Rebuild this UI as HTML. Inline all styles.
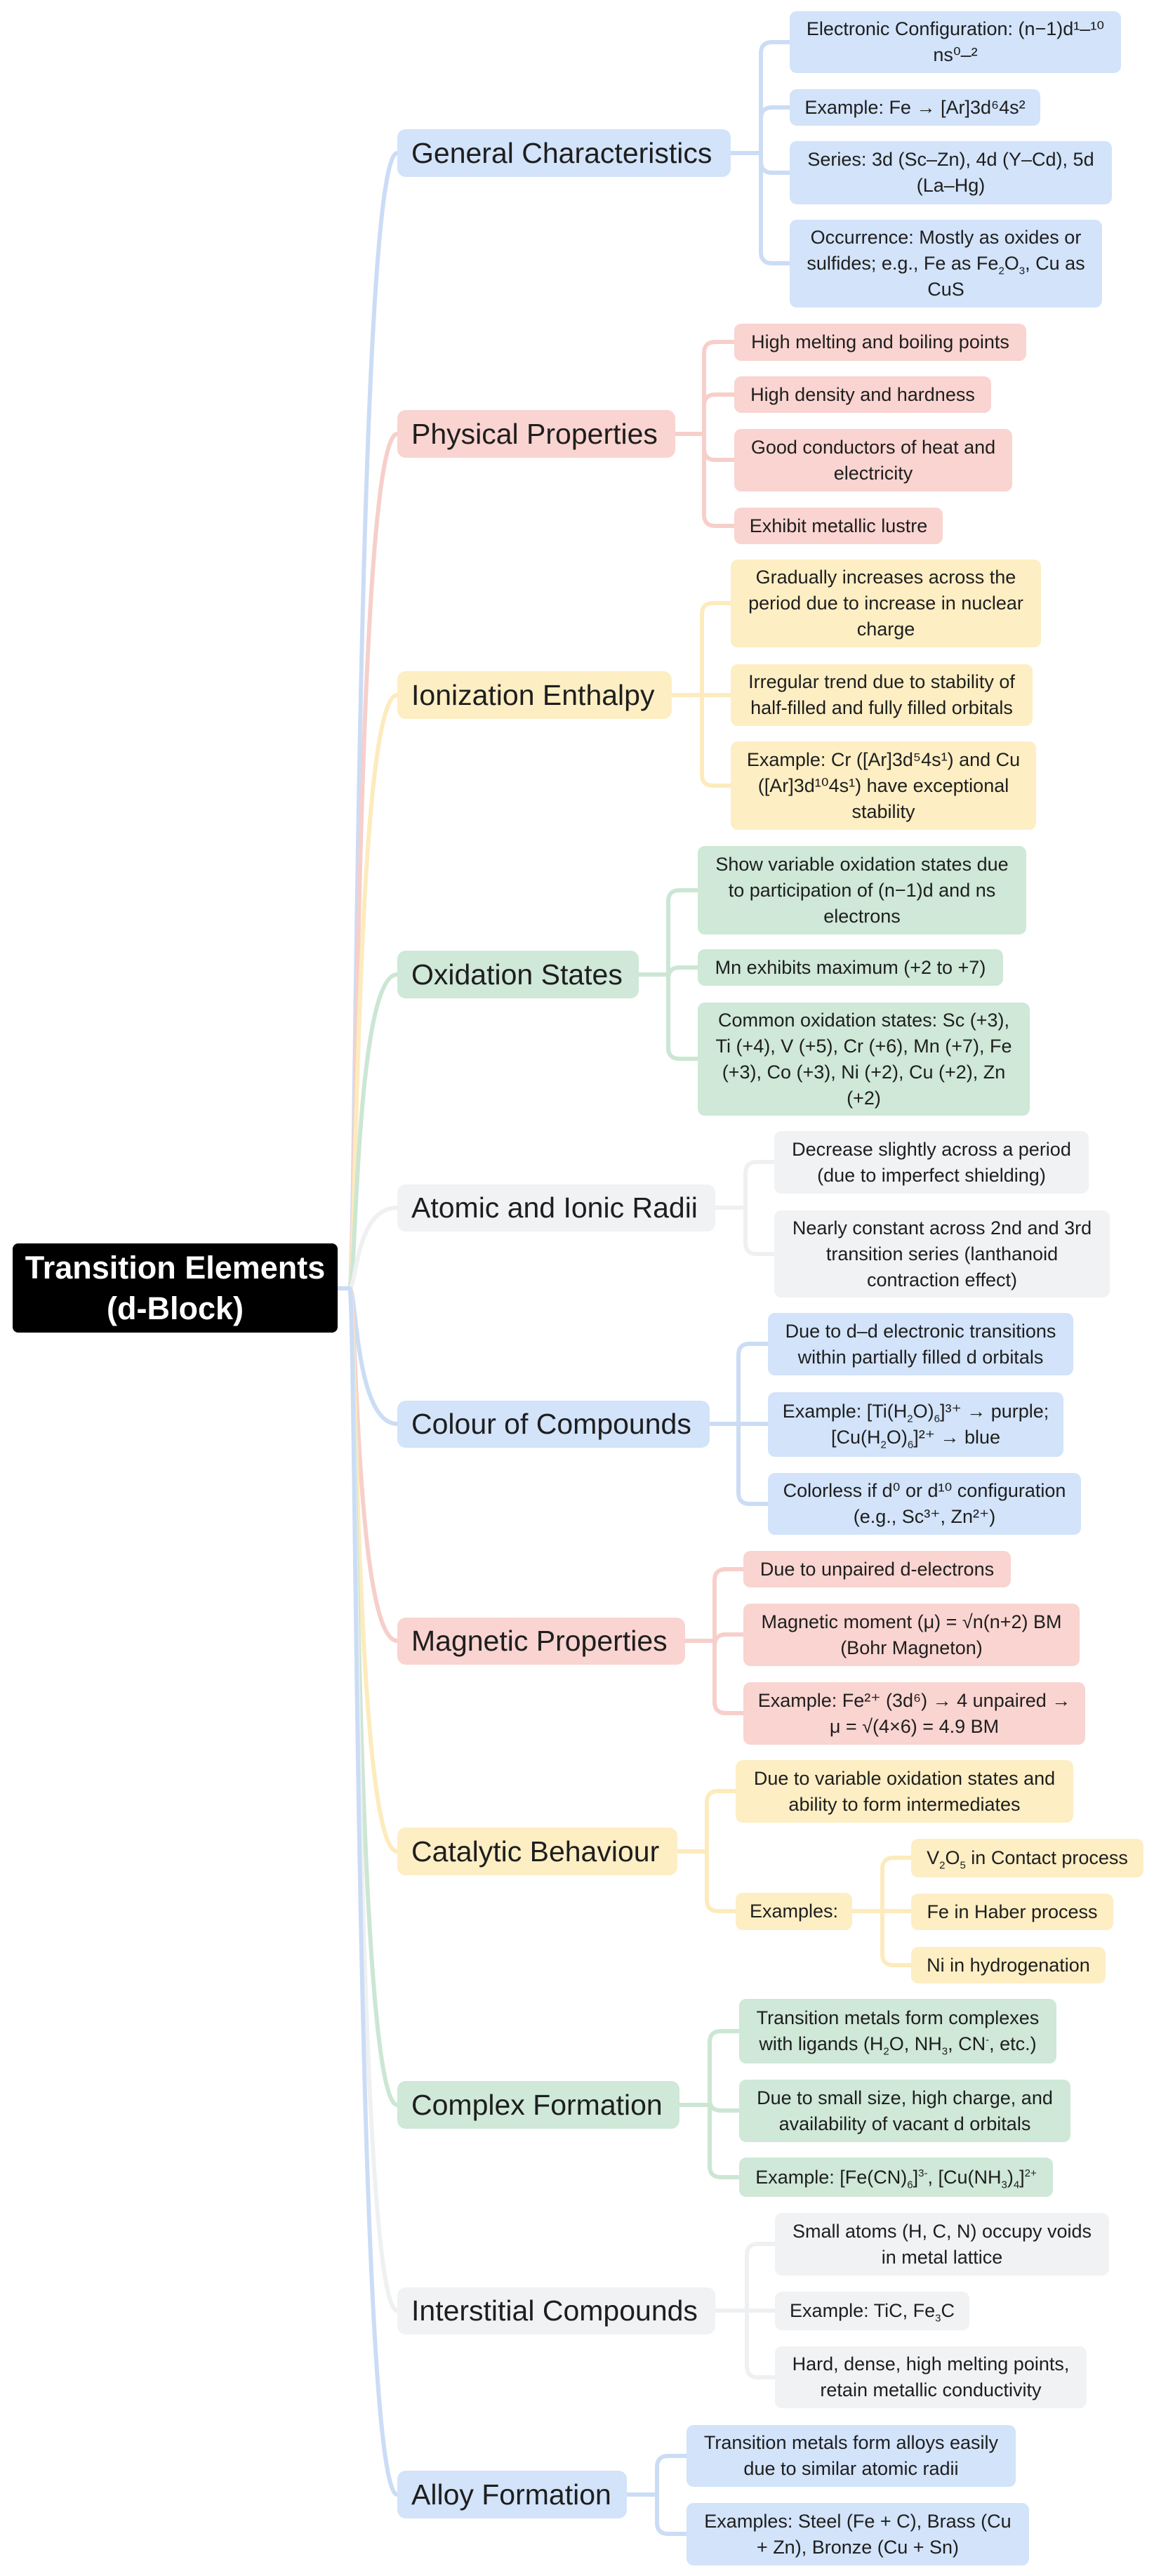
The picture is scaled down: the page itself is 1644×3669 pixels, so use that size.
<!DOCTYPE html>
<html><head><meta charset="utf-8">
<style>
body{margin:0;width:1644px;height:3669px;background:#fff;position:relative;overflow:hidden;font-family:"Liberation Sans",Arial,sans-serif;}
.n{position:absolute;box-sizing:border-box;display:flex;align-items:center;justify-content:center;text-align:center;border-radius:10px;color:#1e1e1e;font-size:27px;line-height:37px;padding:0 10px;white-space:nowrap;}
.l1{font-size:41px;justify-content:flex-start;padding-left:20px;border-radius:12px;}
.root{background:#000;color:#fff;font-weight:bold;font-size:45px;line-height:58px;border-radius:8px;}
.b{background:#d2e3fa}.r{background:#f9d4d0}.y{background:#fdeec3}.g{background:#cfe8d8}.w{background:#f1f2f3}
sub,sup{font-size:15px;line-height:0}
svg{position:absolute;left:0;top:0}
path{fill:none;stroke-width:6;stroke-linecap:round}
.sb{stroke:#cbdcf5}.sr{stroke:#f7cfca}.sy{stroke:#fdebbd}.sg{stroke:#cce6d4}.sw{stroke:#eef0f1}
</style></head><body>
<svg width="1644" height="3669">
<path class="sb" d="M481 1835 H498 C508 1835 506 218 566 218"/>
<path class="sr" d="M481 1835 H498 C508 1835 506 618 566 618"/>
<path class="sy" d="M481 1835 H498 C508 1835 506 990 566 990"/>
<path class="sg" d="M481 1835 H498 C508 1835 506 1388 566 1388"/>
<path class="sw" d="M481 1835 H498 C508 1835 506 1720 566 1720"/>
<path class="sb" d="M481 1835 H498 C508 1835 506 2028 566 2028"/>
<path class="sr" d="M481 1835 H498 C508 1835 506 2337 566 2337"/>
<path class="sy" d="M481 1835 H498 C508 1835 506 2637 566 2637"/>
<path class="sg" d="M481 1835 H498 C508 1835 506 2998 566 2998"/>
<path class="sw" d="M481 1835 H498 C508 1835 506 3291 566 3291"/>
<path class="sb" d="M481 1835 H498 C508 1835 506 3553 566 3553"/>
<path class="sb" d="M1041 218 H1084 V76 Q1084 60 1100 60 H1125"/>
<path class="sb" d="M1041 218 H1084 V169 Q1084 153 1100 153 H1125"/>
<path class="sb" d="M1041 218 H1084 V230 Q1084 246 1100 246 H1125"/>
<path class="sb" d="M1041 218 H1084 V359 Q1084 375 1100 375 H1125"/>
<path class="sr" d="M962 618 H1003 V503 Q1003 487 1019 487 H1046"/>
<path class="sr" d="M962 618 H1003 V578 Q1003 562 1019 562 H1046"/>
<path class="sr" d="M962 618 H1003 V639 Q1003 655 1019 655 H1046"/>
<path class="sr" d="M962 618 H1003 V733 Q1003 749 1019 749 H1046"/>
<path class="sy" d="M957 990 H1000 V875 Q1000 859 1016 859 H1041"/>
<path class="sy" d="M957 990 H1041"/>
<path class="sy" d="M957 990 H1000 V1103 Q1000 1119 1016 1119 H1041"/>
<path class="sg" d="M910 1388 H952 V1284 Q952 1268 968 1268 H994"/>
<path class="sg" d="M910 1388 H952 V1394 Q952 1378 968 1378 H994"/>
<path class="sg" d="M910 1388 H952 V1492 Q952 1508 968 1508 H994"/>
<path class="sw" d="M1019 1720 H1062 V1671 Q1062 1655 1078 1655 H1103"/>
<path class="sw" d="M1019 1720 H1062 V1770 Q1062 1786 1078 1786 H1103"/>
<path class="sb" d="M1011 2028 H1052 V1930 Q1052 1914 1068 1914 H1094"/>
<path class="sb" d="M1011 2028 H1094"/>
<path class="sb" d="M1011 2028 H1052 V2126 Q1052 2142 1068 2142 H1094"/>
<path class="sr" d="M976 2337 H1018 V2251 Q1018 2235 1034 2235 H1059"/>
<path class="sr" d="M976 2337 H1018 V2344 Q1018 2328 1034 2328 H1059"/>
<path class="sr" d="M976 2337 H1018 V2424 Q1018 2440 1034 2440 H1059"/>
<path class="sy" d="M965 2637 H1007 V2567 Q1007 2551 1023 2551 H1048"/>
<path class="sy" d="M965 2637 H1007 V2706 Q1007 2722 1023 2722 H1048"/>
<path class="sy" d="M1214 2722 H1257 V2662 Q1257 2646 1273 2646 H1298"/>
<path class="sy" d="M1214 2722 H1298"/>
<path class="sy" d="M1214 2722 H1257 V2783 Q1257 2799 1273 2799 H1298"/>
<path class="sg" d="M968 2998 H1011 V2909 Q1011 2893 1027 2893 H1053"/>
<path class="sg" d="M968 2998 H1011 V2990 Q1011 3006 1027 3006 H1053"/>
<path class="sg" d="M968 2998 H1011 V3085 Q1011 3101 1027 3101 H1053"/>
<path class="sw" d="M1019 3291 H1064 V3212 Q1064 3196 1080 3196 H1104"/>
<path class="sw" d="M1019 3291 H1104"/>
<path class="sw" d="M1019 3291 H1064 V3370 Q1064 3386 1080 3386 H1104"/>
<path class="sb" d="M893 3553 H936 V3514 Q936 3498 952 3498 H978"/>
<path class="sb" d="M893 3553 H936 V3593 Q936 3609 952 3609 H978"/>
</svg>

<div class="n root" style="left:18px;top:1771px;width:463px;height:127px;"><span>Transition Elements<br>(d-Block)</span></div>

<div class="n l1 b" style="left:566px;top:184px;width:475px;height:68px;"><span>General Characteristics</span></div>
<div class="n l1 r" style="left:566px;top:584px;width:396px;height:68px;"><span>Physical Properties</span></div>
<div class="n l1 y" style="left:566px;top:956px;width:391px;height:68px;"><span>Ionization Enthalpy</span></div>
<div class="n l1 g" style="left:566px;top:1354px;width:344px;height:68px;"><span>Oxidation States</span></div>
<div class="n l1 w" style="left:566px;top:1687px;width:453px;height:67px;"><span>Atomic and Ionic Radii</span></div>
<div class="n l1 b" style="left:566px;top:1995px;width:445px;height:67px;"><span>Colour of Compounds</span></div>
<div class="n l1 r" style="left:566px;top:2304px;width:410px;height:67px;"><span>Magnetic Properties</span></div>
<div class="n l1 y" style="left:566px;top:2603px;width:399px;height:68px;"><span>Catalytic Behaviour</span></div>
<div class="n l1 g" style="left:566px;top:2964px;width:402px;height:68px;"><span>Complex Formation</span></div>
<div class="n l1 w" style="left:566px;top:3258px;width:453px;height:67px;"><span>Interstitial Compounds</span></div>
<div class="n l1 b" style="left:566px;top:3519px;width:327px;height:68px;"><span>Alloy Formation</span></div>

<div class="n b" style="left:1125px;top:16px;width:472px;height:88px;"><span>Electronic Configuration: (n−1)d¹–¹⁰<br>ns⁰–²</span></div>
<div class="n b" style="left:1125px;top:127px;width:357px;height:52px;"><span>Example: Fe → [Ar]3d⁶4s²</span></div>
<div class="n b" style="left:1125px;top:201px;width:459px;height:90px;"><span>Series: 3d (Sc–Zn), 4d (Y–Cd), 5d<br>(La–Hg)</span></div>
<div class="n b" style="left:1125px;top:313px;width:445px;height:125px;"><span>Occurrence: Mostly as oxides or<br>sulfides; e.g., Fe as Fe<sub>2</sub>O<sub>3</sub>, Cu as<br>CuS</span></div>

<div class="n r" style="left:1046px;top:461px;width:416px;height:53px;"><span>High melting and boiling points</span></div>
<div class="n r" style="left:1046px;top:536px;width:366px;height:52px;"><span>High density and hardness</span></div>
<div class="n r" style="left:1046px;top:611px;width:396px;height:89px;"><span>Good conductors of heat and<br>electricity</span></div>
<div class="n r" style="left:1046px;top:723px;width:297px;height:52px;"><span>Exhibit metallic lustre</span></div>

<div class="n y" style="left:1041px;top:797px;width:442px;height:125px;"><span>Gradually increases across the<br>period due to increase in nuclear<br>charge</span></div>
<div class="n y" style="left:1041px;top:946px;width:430px;height:88px;"><span>Irregular trend due to stability of<br>half-filled and fully filled orbitals</span></div>
<div class="n y" style="left:1041px;top:1056px;width:435px;height:126px;"><span>Example: Cr ([Ar]3d⁵4s¹) and Cu<br>([Ar]3d¹⁰4s¹) have exceptional<br>stability</span></div>

<div class="n g" style="left:994px;top:1205px;width:468px;height:126px;"><span>Show variable oxidation states due<br>to participation of (n−1)d and ns<br>electrons</span></div>
<div class="n g" style="left:994px;top:1352px;width:435px;height:52px;"><span>Mn exhibits maximum (+2 to +7)</span></div>
<div class="n g" style="left:994px;top:1428px;width:473px;height:161px;"><span>Common oxidation states: Sc (+3),<br>Ti (+4), V (+5), Cr (+6), Mn (+7), Fe<br>(+3), Co (+3), Ni (+2), Cu (+2), Zn<br>(+2)</span></div>

<div class="n w" style="left:1103px;top:1611px;width:448px;height:89px;"><span>Decrease slightly across a period<br>(due to imperfect shielding)</span></div>
<div class="n w" style="left:1103px;top:1724px;width:478px;height:124px;"><span>Nearly constant across 2nd and 3rd<br>transition series (lanthanoid<br>contraction effect)</span></div>

<div class="n b" style="left:1094px;top:1870px;width:435px;height:89px;"><span>Due to d–d electronic transitions<br>within partially filled d orbitals</span></div>
<div class="n b" style="left:1094px;top:1983px;width:421px;height:92px;"><span>Example: [Ti(H<sub>2</sub>O)<sub>6</sub>]³⁺ → purple;<br>[Cu(H<sub>2</sub>O)<sub>6</sub>]²⁺ → blue</span></div>
<div class="n b" style="left:1094px;top:2098px;width:446px;height:88px;"><span>Colorless if d⁰ or d¹⁰ configuration<br>(e.g., Sc³⁺, Zn²⁺)</span></div>

<div class="n r" style="left:1059px;top:2209px;width:381px;height:52px;"><span>Due to unpaired d-electrons</span></div>
<div class="n r" style="left:1059px;top:2284px;width:479px;height:89px;"><span>Magnetic moment (μ) = √n(n+2) BM<br>(Bohr Magneton)</span></div>
<div class="n r" style="left:1059px;top:2396px;width:487px;height:89px;"><span>Example: Fe²⁺ (3d⁶) → 4 unpaired →<br>μ = √(4×6) = 4.9 BM</span></div>

<div class="n y" style="left:1048px;top:2507px;width:481px;height:89px;"><span>Due to variable oxidation states and<br>ability to form intermediates</span></div>
<div class="n y" style="left:1048px;top:2696px;width:166px;height:53px;"><span>Examples:</span></div>
<div class="n y" style="left:1298px;top:2619px;width:331px;height:55px;"><span>V<sub>2</sub>O<sub>5</sub> in Contact process</span></div>
<div class="n y" style="left:1298px;top:2697px;width:288px;height:52px;"><span>Fe in Haber process</span></div>
<div class="n y" style="left:1298px;top:2773px;width:277px;height:52px;"><span>Ni in hydrogenation</span></div>

<div class="n g" style="left:1053px;top:2847px;width:452px;height:92px;"><span>Transition metals form complexes<br>with ligands (H<sub>2</sub>O, NH<sub>3</sub>, CN<sup>-</sup>, etc.)</span></div>
<div class="n g" style="left:1053px;top:2962px;width:472px;height:89px;"><span>Due to small size, high charge, and<br>availability of vacant d orbitals</span></div>
<div class="n g" style="left:1053px;top:3073px;width:447px;height:56px;"><span>Example: [Fe(CN)<sub>6</sub>]<sup>3-</sup>, [Cu(NH<sub>3</sub>)<sub>4</sub>]<sup>2+</sup></span></div>

<div class="n w" style="left:1104px;top:3152px;width:476px;height:89px;"><span>Small atoms (H, C, N) occupy voids<br>in metal lattice</span></div>
<div class="n w" style="left:1104px;top:3264px;width:277px;height:55px;"><span>Example: TiC, Fe<sub>3</sub>C</span></div>
<div class="n w" style="left:1104px;top:3342px;width:444px;height:88px;"><span>Hard, dense, high melting points,<br>retain metallic conductivity</span></div>

<div class="n b" style="left:978px;top:3454px;width:469px;height:88px;"><span>Transition metals form alloys easily<br>due to similar atomic radii</span></div>
<div class="n b" style="left:978px;top:3565px;width:488px;height:89px;"><span>Examples: Steel (Fe + C), Brass (Cu<br>+ Zn), Bronze (Cu + Sn)</span></div>
</body></html>
